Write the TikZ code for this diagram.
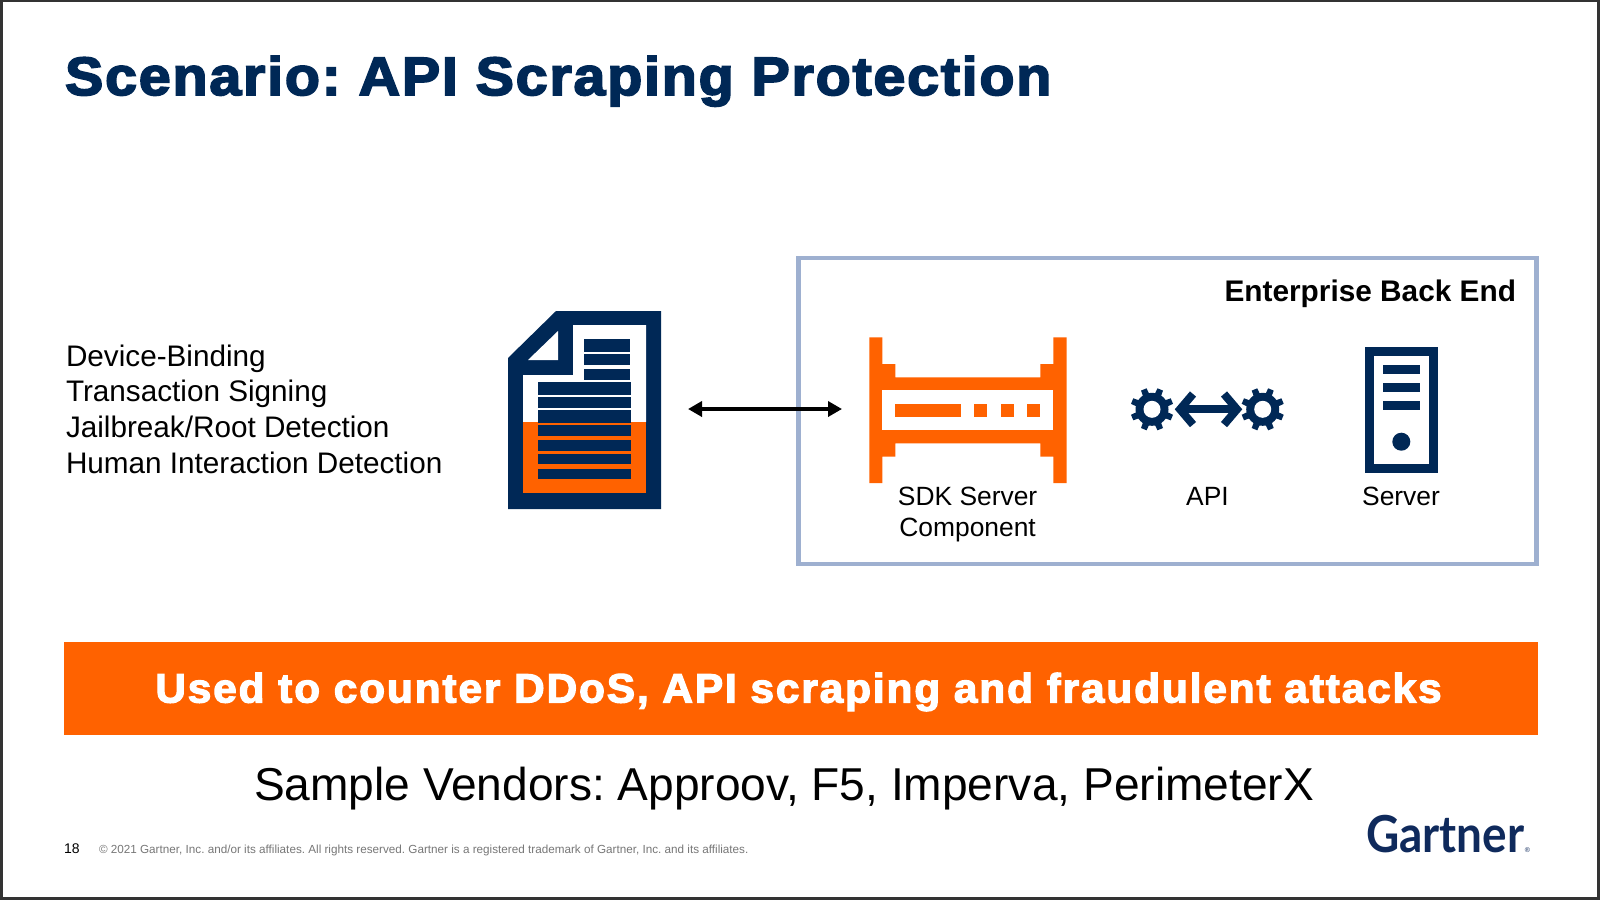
\documentclass[tikz,border=0pt]{standalone}
\usepackage{fontspec}
\setmainfont{Liberation Sans}
\newfontfamily\heavyfont[FakeBold=3.2,FakeStretch=1.065,LetterSpace=3.2]{Liberation Sans Bold}
\newfontfamily\barfont[FakeBold=3.0,FakeStretch=1.035,LetterSpace=4.5]{Liberation Sans Bold}
\newfontfamily\logofont[FakeStretch=0.90]{Lato Bold}
\usetikzlibrary{arrows.meta}
\definecolor{navy}{HTML}{002856}
\definecolor{brand}{HTML}{FF6200}
\definecolor{frameblue}{HTML}{9EB0D0}
\definecolor{edge}{HTML}{333333}
\definecolor{footgray}{HTML}{777777}
\definecolor{logonavy}{HTML}{0F2A5C}
\tikzset{
  txt/.style={inner sep=0pt,outer sep=0pt,anchor=base west},
  ctr/.style={inner sep=0pt,outer sep=0pt,anchor=base,align=center},
  navyfill/.style={fill=navy,draw=none},
  brandfill/.style={fill=brand,draw=none},
  whitefill/.style={fill=white,draw=none},
}
\newcommand{\drawgear}[2]{%
  \fill[navy] (#1,#2) circle[radius=16.5];
  \foreach \a in {22.5,67.5,...,360}{
    \begin{scope}[shift={(#1,#2)},rotate=\a]
      \fill[navy] (-4,0) -- (-3,-21.5) -- (3,-21.5) -- (4,0) -- cycle;
    \end{scope}
  }
  \fill[white] (#1,#2) circle[radius=8.5];
}
\frenchspacing
\begin{document}
\begin{tikzpicture}[x=1pt,y=-1pt]
\useasboundingbox (0,0) rectangle (1600,900);
\fill[white] (0,0) rectangle (1600,900);
% screenshot edge
\fill[edge] (0,0) rectangle (1600,1.5);
\fill[edge] (0,0) rectangle (3,900);
\fill[edge] (0,897) rectangle (1600,900);
\fill[edge] (1597,0) rectangle (1600,900);

\node[txt,text=navy] (title) at (65,95) {\fontsize{54}{60}\heavyfont Scenario: API Scraping Protection};

\node[inner sep=0pt,outer sep=0pt,anchor=north west,align=left,font=\fontsize{29.7}{35.8}\selectfont] (features) at (66,344.5)
  {Device-Binding\\Transaction Signing\\Jailbreak/Root Detection\\Human Interaction Detection};

% document icon
\path[navyfill] (556,311) -- (661,311) -- (661,509) -- (508,509) -- (508,358) -- cycle;
\path[whitefill] (573,325) -- (646,325) -- (646,422) -- (523,422) -- (523,375) -- (573,375) -- cycle;
\path[brandfill] (523,422) rectangle (646,493);
\path[whitefill] (558,331) -- (558,360) -- (528,360) -- cycle;
\foreach \ya/\yb in {339/352,354/365,369/380}{\path[navyfill] (584,\ya) rectangle (630,\yb);}
\foreach \ya/\yb in {382.3/394.7,397/408,410/422.7,425/436,440.3/451.3,453.7/464.3,468.7/479}{\path[navyfill] (538,\ya) rectangle (630.7,\yb);}

% back-end frame
\node[draw=frameblue,line width=4.5pt,inner sep=0pt,outer sep=0pt,minimum width=738pt,minimum height=306pt,anchor=north west] (backend) at (798.5,258) {};
\node[inner sep=0pt,outer sep=0pt,anchor=base east] (backendlabel) at (1516,301) {\fontsize{29.8}{32}\selectfont\bfseries Enterprise Back End};

% connector
\coordinate (arrowL) at (688,409);
\coordinate (arrowR) at (842,409);
\draw[line width=3.5pt,{Triangle[length=14pt,width=15pt]}-{Triangle[length=14pt,width=15pt]}] (arrowL) -- (arrowR);

% SDK server component
\path[brandfill] (869.3,337.3) -- (882.3,337.3) -- (882.3,364) -- (895.3,364) -- (895.3,377.3) -- (1040.3,377.3) -- (1040.3,364) -- (1053.3,364) -- (1053.3,337.3) -- (1066.7,337.3) -- (1066.7,483) -- (1053.3,483) -- (1053.3,456.7) -- (1040.3,456.7) -- (1040.3,443.3) -- (895.3,443.3) -- (895.3,456.7) -- (882.3,456.7) -- (882.3,483) -- (869.3,483) -- cycle;
\path[whitefill] (882.3,390) rectangle (1053.3,430);
\path[brandfill] (895.3,403.7) rectangle (961.3,416.7);
\path[brandfill] (974.3,403.7) rectangle (987.3,416.7);
\path[brandfill] (1000.7,403.7) rectangle (1013.7,416.7);
\path[brandfill] (1027.3,403.7) rectangle (1040.3,416.7);
\node[inner sep=0pt,outer sep=0pt,anchor=base,align=center,font=\fontsize{26.4}{31}\selectfont] (sdk) at (967.6,536)
  {SDK Server\\Component};

% API icon
\drawgear{1152}{409.3}
\drawgear{1262.7}{409.3}
\draw[navy,line width=8pt] (1181,409.3) -- (1236,409.3);
\draw[navy,line width=8pt,miter limit=10] (1193,394) -- (1180,409.3) -- (1193,424.6);
\draw[navy,line width=8pt,miter limit=10] (1224,394) -- (1237,409.3) -- (1224,424.6);
\node[ctr] (api) at (1207.5,505) {\fontsize{26.4}{30}\selectfont API};

% server icon
\path[navyfill] (1365,347.3) rectangle (1437.7,473.3);
\path[whitefill] (1374,356) rectangle (1429,464.3);
\path[navyfill] (1383.3,365) rectangle (1420,374);
\path[navyfill] (1383.3,383.3) rectangle (1420,392);
\path[navyfill] (1383.3,401.3) rectangle (1420,410);
\fill[navy] (1401.3,441.7) circle[radius=9];
\node[ctr] (server) at (1401,505) {\fontsize{26.4}{30}\selectfont Server};

% banner
\node[fill=brand,inner sep=0pt,outer sep=0pt,minimum width=1473.7pt,minimum height=93pt,anchor=north west] (banner) at (63.8,642) {};
\node[text=white,inner sep=0pt,outer sep=0pt,anchor=base] (bannertext) at (798.5,702.5) {\fontsize{41}{46}\barfont Used to counter DDoS, API scraping and fraudulent attacks};

\node[ctr] (vendors) at (784,800) {\fontsize{46.1}{52}\selectfont Sample Vendors: Approov, F5, Imperva, PerimeterX};

\node[txt] (pagenum) at (64,853) {\fontsize{14}{16}\selectfont 18};
\node[txt,text=footgray] (legal) at (99,853) {\fontsize{11.7}{13}\selectfont © 2021 Gartner, Inc. and/or its affiliates. All rights reserved. Gartner is a registered trademark of Gartner, Inc. and its affiliates.};

\node[txt,text=logonavy] (logo) at (1366,852) {\fontsize{51}{54}\logofont Gartner};
\node[text=logonavy,inner sep=0pt,outer sep=0pt,anchor=base west] (logomark) at ([xshift=0.5pt]logo.base east) {\fontsize{7}{8}\selectfont ®};
\end{tikzpicture}
\end{document}
